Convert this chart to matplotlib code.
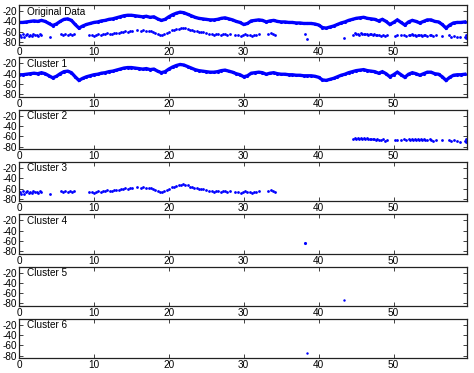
import numpy as np
import matplotlib
matplotlib.use("Agg")
import matplotlib.pyplot as plt

plt.rcParams['font.family'] = ['Liberation Sans', 'DejaVu Sans']
plt.rcParams['font.size'] = 7.2

# cluster 1: main band, sampled every 0.5
t1 = np.arange(0, 60, 0.5)
c1 = [-42, -42, -41, -40, -39, -40, -38, -40, -44, -48,
      -45, -40, -36, -35, -38, -46, -53, -49, -46, -44,
      -42, -41, -39, -38, -36, -35, -33, -31, -29, -28,
      -28, -29, -30, -31, -30, -32, -31, -35, -38, -36,
      -31, -27, -24, -22, -23, -26, -29, -32, -34, -35,
      -36, -37, -37, -36, -34, -33, -35, -37, -40, -42,
      -46, -44, -39, -38, -37, -38, -41, -39, -38, -40,
      -41, -41, -42, -42, -43, -43, -44, -44, -44, -45,
      -47, -52, -53, -51, -49, -46, -43, -41, -38, -36,
      -34, -33, -32, -34, -35, -36, -39, -36, -40, -46,
      -42, -37, -42, -47, -41, -38, -40, -43, -40, -37,
      -37, -40, -41, -46, -53, -47, -43, -42, -42, -41]

# cluster 2
x2 = [44.6, 44.8, 45.0, 45.2, 45.4, 45.6, 45.8, 46.0, 46.2, 46.4, 46.6, 46.8,
      47.0, 47.2, 47.4, 47.6, 47.8, 48.0, 48.3, 48.6, 48.9, 49.1, 50.2, 50.4,
      51.0, 51.4, 51.7, 52.0, 52.2, 52.4, 52.6, 52.8, 53.0, 53.2, 53.4, 53.6,
      53.8, 54.0, 54.2, 54.5, 54.8, 55.0, 55.3, 55.6, 56.4, 57.4, 57.7, 58.0,
      58.5, 58.9, 59.5, 59.6, 59.7]
y2 = [-66, -63, -65, -64, -66, -63, -65, -64, -65, -64, -66, -65,
      -65, -66, -65, -67, -66, -67, -68, -66, -69, -67, -68, -67,
      -67, -66, -68, -66, -67, -65, -67, -66, -68, -66, -67, -66,
      -68, -66, -67, -68, -66, -67, -69, -67, -68, -67, -70, -68,
      -70, -71, -70, -66, -72]

# cluster 3
x3 = [0.1, 0.3, 0.5, 0.7, 0.9, 1.1, 1.3, 1.5, 1.7, 1.9, 2.1, 2.4, 2.6, 2.8, 3.0,
      4.2, 5.6, 5.9, 6.2, 6.5, 6.8, 7.1, 7.3,
      9.4, 9.7, 10.0, 10.3, 10.6, 10.9, 11.2, 11.5, 11.8, 12.1, 12.4, 12.7,
      13.0, 13.3, 13.6, 13.9, 14.2, 14.5, 14.8, 15.1, 15.8, 16.3, 16.6,
      17.0, 17.3, 17.6, 17.9, 18.2, 18.5, 18.8, 19.1, 19.4, 19.7, 20.0,
      20.4, 20.7, 21.0, 21.3, 21.6, 21.9, 22.2, 22.5, 22.8, 23.1, 23.4,
      23.7, 24.0, 24.3, 24.6, 25.0, 25.3, 25.7, 26.0, 26.3, 26.6, 26.9,
      27.2, 27.5, 27.8, 28.1, 28.8, 29.2, 29.6, 29.9, 30.2, 30.5, 30.8,
      31.1, 31.4, 31.7, 32.0, 33.3, 33.6, 33.9, 34.2]
y3 = [-66, -70, -64, -71, -67, -65, -69, -66, -68, -64, -67, -66, -68, -65, -67,
      -70, -65, -67, -64, -66, -64, -67, -65,
      -67, -66, -68, -66, -65, -66, -64, -65, -63, -64, -64, -63,
      -62, -63, -61, -60, -59, -60, -58, -59, -57, -58, -57,
      -58, -59, -58, -60, -62, -64, -66, -67, -65, -63, -60,
      -57, -56, -55, -54, -53, -52, -53, -54, -56, -57, -58,
      -59, -60, -60, -61, -63, -65, -64, -66, -64, -65, -66,
      -65, -64, -66, -65, -67, -66, -68, -66, -65, -67, -66,
      -68, -66, -67, -65, -65, -63, -64, -66]

# single-point clusters
x4, y4 = [38.2], [-65]
x5, y5 = [43.4], [-73]
x6, y6 = [38.5], [-74]

labels = ['Original Data', 'Cluster 1', 'Cluster 2', 'Cluster 3',
          'Cluster 4', 'Cluster 5', 'Cluster 6']

fig = plt.figure(figsize=(4.74, 3.73), dpi=100)
W, H = 474.0, 373.0
blue = '#0000ff'

axes = []
for i in range(7):
    top = 5 + i * 52.3
    ax = fig.add_axes([19 / W, 1 - (top + 39.5) / H, 448 / W, 39.5 / H])
    axes.append(ax)

def dots(ax, x, y, ms=4.0):
    ax.plot(x, y, '.', color=blue, ms=ms, mew=0)

def band(ax):
    ax.plot(t1, c1, '-', color=blue, lw=2.4, solid_joinstyle='miter')
    ax.plot(t1, c1, '.', color=blue, ms=4.5, mew=0)

# original data: everything together
band(axes[0])
for x, y in [(x2, y2), (x3, y3), (x4, y4), (x5, y5), (x6, y6)]:
    dots(axes[0], x, y)

band(axes[1])
dots(axes[2], x2, y2)
dots(axes[3], x3, y3)
dots(axes[4], x4, y4, 4.5)
dots(axes[5], x5, y5, 3.5)
dots(axes[6], x6, y6, 3.5)

for ax, lab in zip(axes, labels):
    ax.set_xlim(0, 59.8)
    ax.set_ylim(-85, -8)
    ax.set_xticks([0, 10, 20, 30, 40, 50])
    ax.set_yticks([-20, -40, -60, -80])
    ax.set_yticklabels(['-20', '-40', '-60', '-80'])
    ax.tick_params(direction='in', length=3, width=0.6, pad=1.5,
                   top=True, right=True, colors='#222222', labelcolor='black')
    for s in ax.spines.values():
        s.set_linewidth(0.9)
        s.set_color('#222222')
    ax.text(0.018, 0.96, lab, transform=ax.transAxes, va='top', ha='left')

fig.savefig('out.png', dpi=100)
